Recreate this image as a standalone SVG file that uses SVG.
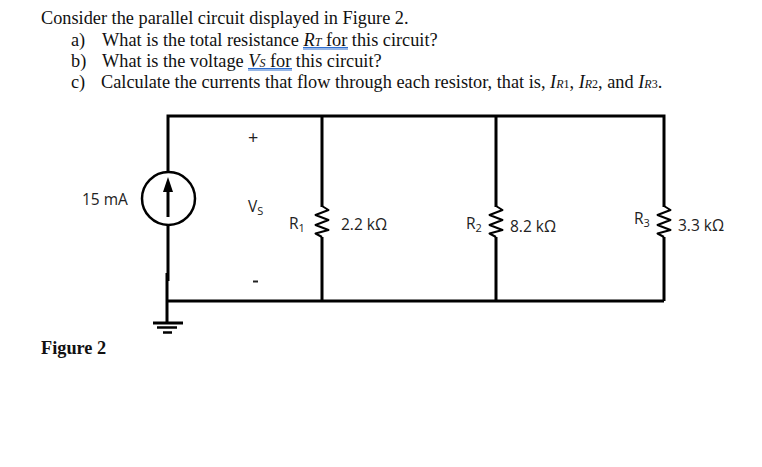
<svg xmlns="http://www.w3.org/2000/svg" width="762" height="467" viewBox="0 0 762 467">
<style>
.t{font-family:"Liberation Serif",serif;font-size:18.3px;fill:#111}
.i{font-style:italic}
.sub{font-size:12px}
.c{font-family:"Open Sans","Noto Sans",sans-serif;font-size:15.500px;fill:#222}
.s{font-size:11px}
.w{fill:none;stroke:#000;stroke-width:3}
.r{fill:none;stroke:#000;stroke-width:2;stroke-linejoin:round}
.u{fill:none;stroke:#2f6fd0;stroke-width:1}
</style>
<rect width="762" height="467" fill="#fff"/>
<g id="question">
<text class="t" x="41" y="24">Consider the parallel circuit displayed in Figure 2.</text>
<text class="t" x="71" y="45.500">a)</text>
<text class="t" x="102" y="45.500">What is the total resistance <tspan class="i">R</tspan><tspan class="i sub">T</tspan> for this circuit?</text>
<text class="t" x="71" y="66.500">b)</text>
<text class="t" x="102" y="66.500">What is the voltage <tspan class="i">V</tspan><tspan class="i sub">S</tspan> for this circuit?</text>
<text class="t" x="71" y="87.500">c)</text>
<text class="t" x="101" y="87.500">Calculate the currents that flow through each resistor, that is, <tspan class="i">I</tspan><tspan class="i sub">R</tspan><tspan class="sub">1</tspan>, <tspan class="i">I</tspan><tspan class="i sub">R</tspan><tspan class="sub">2</tspan>, and <tspan class="i">I</tspan><tspan class="i sub">R</tspan><tspan class="sub">3</tspan>.</text>
<path class="u" d="M303 47.500H348M303 49H348M248 68.500H292M248 70H292"/>
<text class="t" x="41" y="354" font-weight="bold">Figure 2</text>
</g>
<g id="connectors">
<path class="w" d="M168 172V116H664V207M168 225V281M167 273V323M167 301H664M322 116V207M322 237V301M496 116V207M496 237V301M664 237V301"/>
</g>
<g id="source">
<circle cx="168.500" cy="198.500" r="26.500" fill="#fff" stroke="#000" stroke-width="2.500"/>
<path d="M168 177L163 192H173Z" fill="#000"/>
<path d="M168 190V217" stroke="#000" stroke-width="3"/>
<text class="c" x="82" y="205">15 mA</text>
</g>
<g id="ground">
<path d="M153 323H183" stroke="#000" stroke-width="3"/>
<path d="M157 327.500H177" stroke="#000" stroke-width="2.500"/>
<path d="M163 332.500H172" stroke="#000" stroke-width="2.500"/>
</g>
<g id="vs">
<text class="c" x="248" y="144" style="font-size:18px">+</text>
<text class="c" x="248" y="212">V<tspan class="s" dy="3">S</tspan></text>
<path d="M253 281.500H258" stroke="#222" stroke-width="2"/>
</g>
<g id="r1">
<path class="r" d="M322 206L328.500 210L315.500 215L328.500 220L315.500 225L328.500 230L315.500 233.500L322 237"/>
<text class="c" x="289" y="229">R<tspan class="s" dy="3">1</tspan></text>
<text class="c" x="341" y="230">2.2 kΩ</text>
</g>
<g id="r2">
<path class="r" d="M496 206L502.500 210L489.500 215L502.500 220L489.500 225L502.500 230L489.500 233.500L496 237"/>
<text class="c" x="466" y="229">R<tspan class="s" dy="3">2</tspan></text>
<text class="c" x="510" y="232">8.2 kΩ</text>
</g>
<g id="r3">
<path class="r" d="M664 206L670.500 210L657.500 215L670.500 220L657.500 225L670.500 230L657.500 233.500L664 237"/>
<text class="c" x="634" y="224">R<tspan class="s" dy="3">3</tspan></text>
<text class="c" x="678" y="231">3.3 kΩ</text>
</g>
</svg>
